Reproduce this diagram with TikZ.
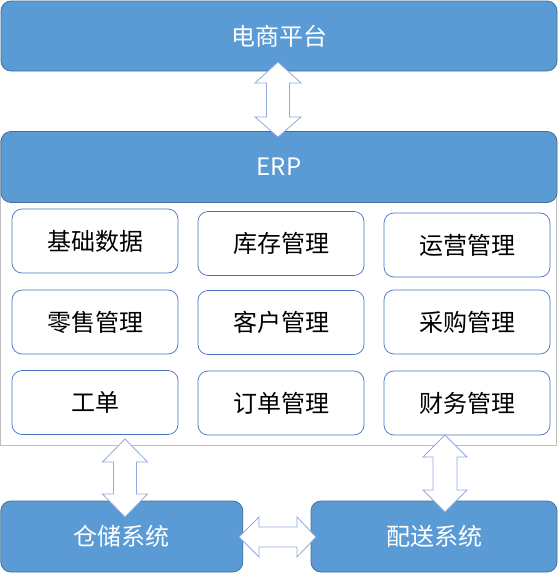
\documentclass[tikz,border=0pt]{standalone}
\usepackage{fontspec}
\newfontfamily\cjk{Noto Sans CJK SC}
\definecolor{boxfill}{HTML}{5B9BD5}
\definecolor{boxline}{HTML}{41719C}
\definecolor{modline}{HTML}{4472C4}
\definecolor{arrline}{HTML}{8FAADC}
\definecolor{framegray}{HTML}{BFBFBF}
\newcommand\vdarrow[7]{%
  \draw[blockarrow] (#1,#2) -- (#1+#7,#3) -- (#1+#6,#3) -- (#1+#6,#4) -- (#1+#7,#4) -- (#1,#5)
    -- (#1-#7,#4) -- (#1-#6,#4) -- (#1-#6,#3) -- (#1-#7,#3) -- cycle;}
\newcommand\hdarrow[7]{%
  \draw[blockarrow] (#2,#1) -- (#3,#1-#7) -- (#3,#1-#6) -- (#4,#1-#6) -- (#4,#1-#7) -- (#5,#1)
    -- (#4,#1+#7) -- (#4,#1+#6) -- (#3,#1+#6) -- (#3,#1+#7) -- cycle;}
\begin{document}
\begin{tikzpicture}[x=1pt,y=-1pt,
  bigbox/.style={draw=boxline, fill=boxfill, rounded corners=10pt, text=white,
    font=\cjk\fontsize{24}{28}\selectfont, line width=0.8pt, inner sep=0pt},
  modbox/.style={draw=modline, fill=white, rounded corners=10pt, text=black,
    font=\cjk\fontsize{24}{28}\selectfont, line width=0.7pt, inner sep=0pt,
    minimum width=166pt, minimum height=64pt},
  blockarrow/.style={draw=arrline, fill=white, line width=0.8pt, line join=miter}]
\useasboundingbox (0,0) rectangle (558,573);
% ERP container
\draw[framegray, line width=0.8pt] (0.6,140) rectangle (556.6,445);
% top platform
\node[bigbox, minimum width=556pt, minimum height=70pt] (platform) at (279,36) {电商平台};
\node[bigbox, minimum width=556pt, minimum height=71pt] (erp) at (279,167) {ERP};
% modules
\node[modbox] (m11) at (95,241) {基础数据};
\node[modbox] (m12) at (281,243.5) {库存管理};
\node[modbox] (m13) at (467,245) {运营管理};
\node[modbox] (m21) at (95,322) {零售管理};
\node[modbox] (m22) at (281,322.5) {客户管理};
\node[modbox] (m23) at (467,322) {采购管理};
\node[modbox] (m31) at (95,402.5) {工单};
\node[modbox] (m32) at (281,403) {订单管理};
\node[modbox] (m33) at (467,403) {财务管理};
% bottom systems
\node[bigbox, minimum width=242pt, minimum height=71pt] (wms) at (121.8,536.5) {仓储系统};
\node[bigbox, minimum width=246pt, minimum height=71pt] (tms) at (434,536.5) {配送系统};
% block arrows
\vdarrow{278}{62}{83}{117}{137}{11.5}{23}
\vdarrow{125}{439}{462}{494}{517}{11.5}{22.5}
\vdarrow{445}{435}{457}{490}{512}{12}{22}
\hdarrow{537}{239}{259}{297}{316}{10}{20}
\end{tikzpicture}
\end{document}
